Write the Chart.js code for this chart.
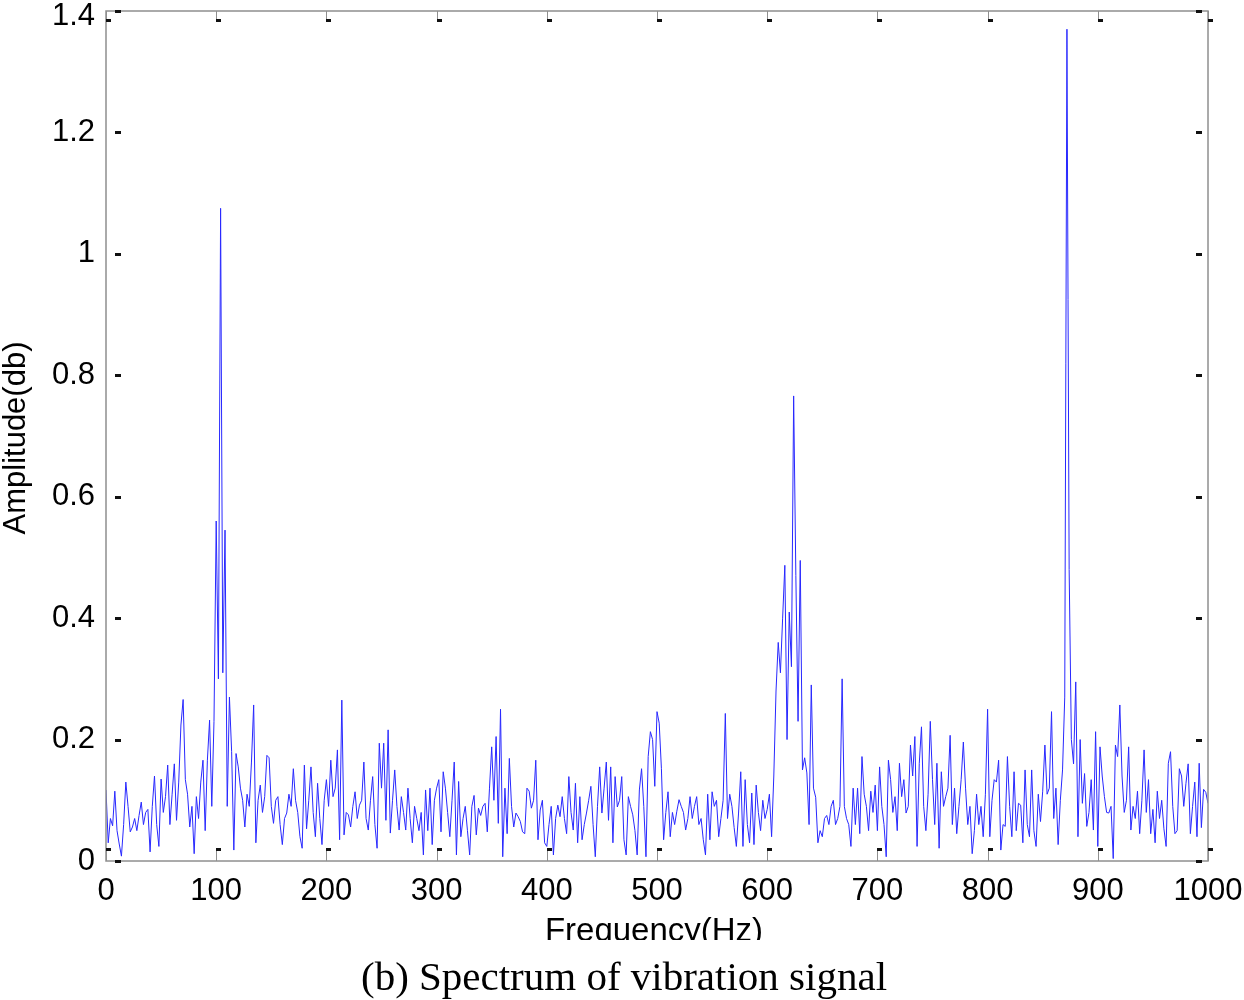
<!DOCTYPE html>
<html>
<head>
<meta charset="utf-8">
<script src="https://cdn.jsdelivr.net/npm/chart.js@4/dist/chart.umd.min.js"></script>
<style>
  html, body { margin: 0; padding: 0; background: #ffffff; }
  #wrap { position: relative; width: 1244px; height: 1000px; }
  canvas { display: block; }
</style>
</head>
<body>
<div id="wrap"><canvas id="c" width="1244" height="1000"></canvas></div>
<script>
// ---- data ----
const freqStartHz = 0;
const freqStepHz = 2;
const amplitudeDb = [
  0.117,0.03,0.07,0.058,0.115,0.05,0.028,0.008,0.06,0.13,
  0.09,0.048,0.056,0.07,0.05,0.075,0.097,0.06,0.08,0.085,
  0.015,0.09,0.14,0.06,0.024,0.135,0.08,0.106,0.158,0.06,
  0.11,0.16,0.067,0.13,0.224,0.266,0.134,0.11,0.056,0.09,
  0.012,0.106,0.07,0.13,0.166,0.05,0.166,0.232,0.09,0.23,
  0.56,0.30,1.075,0.31,0.545,0.09,0.27,0.18,0.018,0.177,
  0.155,0.12,0.10,0.056,0.11,0.09,0.163,0.257,0.03,0.10,
  0.125,0.08,0.106,0.174,0.17,0.09,0.062,0.10,0.106,0.06,
  0.027,0.07,0.079,0.11,0.09,0.152,0.10,0.08,0.04,0.021,
  0.158,0.053,0.10,0.155,0.08,0.04,0.128,0.07,0.027,0.10,
  0.134,0.09,0.166,0.106,0.12,0.183,0.035,0.265,0.043,0.08,
  0.076,0.056,0.09,0.114,0.07,0.092,0.10,0.163,0.07,0.051,
  0.10,0.139,0.06,0.021,0.194,0.12,0.194,0.067,0.216,0.046,
  0.10,0.15,0.09,0.051,0.106,0.08,0.051,0.12,0.07,0.03,
  0.09,0.07,0.05,0.08,0.01,0.117,0.05,0.12,0.027,0.10,
  0.12,0.134,0.048,0.147,0.12,0.08,0.04,0.10,0.163,0.01,
  0.131,0.04,0.07,0.09,0.05,0.01,0.09,0.108,0.043,0.087,
  0.075,0.09,0.095,0.048,0.12,0.188,0.10,0.205,0.062,0.25,
  0.007,0.12,0.045,0.169,0.09,0.056,0.079,0.073,0.065,0.048,
  0.045,0.12,0.115,0.087,0.10,0.166,0.035,0.084,0.10,0.03,
  0.024,0.06,0.09,0.01,0.07,0.092,0.073,0.106,0.07,0.045,
  0.139,0.08,0.051,0.128,0.03,0.106,0.035,0.06,0.079,0.10,
  0.123,0.06,0.007,0.09,0.155,0.079,0.12,0.163,0.067,0.155,
  0.03,0.139,0.089,0.10,0.139,0.035,0.01,0.106,0.09,0.076,
  0.05,0.01,0.117,0.152,0.09,0.007,0.172,0.213,0.2,0.123,
  0.246,0.227,0.152,0.035,0.08,0.114,0.04,0.08,0.06,0.082,
  0.101,0.09,0.08,0.051,0.07,0.106,0.07,0.09,0.106,0.06,
  0.07,0.035,0.01,0.11,0.035,0.114,0.09,0.10,0.04,0.07,
  0.10,0.243,0.07,0.11,0.09,0.055,0.024,0.079,0.147,0.024,
  0.134,0.06,0.03,0.112,0.027,0.125,0.08,0.05,0.10,0.07,
  0.085,0.11,0.04,0.14,0.28,0.36,0.31,0.40,0.487,0.20,
  0.41,0.32,0.766,0.47,0.23,0.495,0.15,0.17,0.145,0.06,
  0.29,0.12,0.105,0.03,0.05,0.04,0.07,0.075,0.06,0.09,
  0.10,0.06,0.07,0.09,0.30,0.09,0.07,0.06,0.024,0.12,
  0.06,0.12,0.045,0.172,0.11,0.09,0.05,0.115,0.08,0.125,
  0.05,0.155,0.09,0.06,0.007,0.166,0.134,0.08,0.106,0.05,
  0.161,0.106,0.134,0.079,0.09,0.191,0.14,0.205,0.024,0.161,
  0.221,0.09,0.05,0.11,0.23,0.134,0.06,0.161,0.021,0.147,
  0.09,0.106,0.12,0.207,0.06,0.12,0.045,0.09,0.134,0.196,
  0.12,0.06,0.09,0.012,0.05,0.11,0.06,0.09,0.04,0.11,
  0.25,0.04,0.10,0.134,0.13,0.166,0.018,0.06,0.057,0.172,
  0.09,0.04,0.147,0.05,0.095,0.092,0.03,0.15,0.06,0.04,
  0.15,0.05,0.024,0.11,0.065,0.115,0.191,0.11,0.12,0.246,
  0.07,0.12,0.027,0.10,0.15,0.27,1.37,0.48,0.20,0.16,
  0.295,0.04,0.2,0.095,0.144,0.057,0.08,0.134,0.051,0.213,
  0.024,0.188,0.14,0.106,0.08,0.079,0.09,0.004,0.191,0.172,
  0.257,0.14,0.08,0.10,0.188,0.051,0.09,0.07,0.115,0.045,
  0.10,0.183,0.08,0.134,0.045,0.085,0.03,0.115,0.07,0.10,
  0.053,0.024,0.161,0.18,0.09,0.045,0.05,0.152,0.14,0.09,
  0.128,0.16,0.045,0.09,0.13,0.04,0.161,0.055,0.118,0.113,
  0.095
];
const xTickValues = [0,100,200,300,400,500,600,700,800,900,1000];
const yTickValues = [0,0.2,0.4,0.6,0.8,1,1.2,1.4];
const xAxisTitle = 'Frequency(Hz)';
const yAxisTitle = 'Amplitude(db)';
const captionText = '(b) Spectrum of vibration signal';

// ---- build points from the arrays ----
const points = amplitudeDb.map((v, i) => ({ x: freqStartHz + i * freqStepHz, y: v }));

const FRAME = '#8f8f8f';
const TICK_FONT = '"Liberation Sans", Arial, sans-serif';
const yTop = yTickValues[yTickValues.length - 1];

const decorPlugin = {
  id: 'decor',
  afterDraw(chart) {
    const { ctx, chartArea: a, scales } = chart;
    ctx.save();
    // frame
    ctx.strokeStyle = FRAME;
    ctx.lineWidth = 1.5;
    ctx.strokeRect(a.left, a.top, a.right - a.left, a.bottom - a.top);
    // tick marks (inside, MATLAB style)
    ctx.fillStyle = '#111';
    xTickValues.forEach(v => {
      const x = Math.round(scales.x.getPixelForValue(v));
      ctx.strokeStyle = FRAME; ctx.lineWidth = 1;
      ctx.beginPath(); ctx.moveTo(x + 0.5, a.bottom); ctx.lineTo(x + 0.5, a.bottom - 12); ctx.stroke();
      ctx.beginPath(); ctx.moveTo(x + 0.5, a.top); ctx.lineTo(x + 0.5, a.top + 10); ctx.stroke();
      ctx.fillRect(x, a.bottom - 13, 5, 3);
      ctx.fillRect(x, a.top + 8, 5, 3);
    });
    yTickValues.forEach(v => {
      const y = Math.round(scales.y.getPixelForValue(v));
      ctx.fillRect(a.left + 9, y - 1, 6, 3);
      ctx.fillRect(a.right - 12, y - 1, 6, 3);
    });
    // y axis title
    ctx.fillStyle = '#000';
    ctx.font = '31px ' + TICK_FONT;
    ctx.textAlign = 'center';
    ctx.textBaseline = 'middle';
    ctx.save();
    ctx.translate(16, 438);
    ctx.rotate(-Math.PI / 2);
    ctx.fillText(yAxisTitle, 0, 0);
    ctx.restore();
    // x axis title (bottom clipped, as in the reference)
    ctx.save();
    ctx.beginPath();
    ctx.rect(0, 890, chart.width, 50);
    ctx.clip();
    ctx.font = '33px ' + TICK_FONT;
    ctx.textAlign = 'center';
    ctx.textBaseline = 'alphabetic';
    ctx.fillText(xAxisTitle, 654, 941);
    ctx.restore();
    // caption
    ctx.font = '41px "Liberation Serif", "Times New Roman", serif';
    ctx.textAlign = 'center';
    ctx.textBaseline = 'alphabetic';
    ctx.fillText(captionText, 624, 990);
    ctx.restore();
  }
};

new Chart(document.getElementById('c'), {
  type: 'line',
  data: {
    datasets: [{
      data: points,
      borderColor: 'rgb(40,40,255)',
      borderWidth: 1,
      pointRadius: 0,
      tension: 0,
      fill: false
    }]
  },
  options: {
    responsive: false,
    animation: false,
    layout: { padding: { left: 0, right: 36, top: 11, bottom: 0 } },
    plugins: { legend: { display: false }, tooltip: { enabled: false }, title: { display: false } },
    scales: {
      x: {
        type: 'linear',
        min: 0, max: 1000,
        afterBuildTicks: s => { s.ticks = xTickValues.map(v => ({ value: v })); },
        afterFit: s => { s.height = 139; s.paddingLeft = 0; s.paddingRight = 0; },
        grid: { display: false, drawTicks: false },
        border: { display: false },
        ticks: {
          color: '#000',
          padding: 12,
          maxRotation: 0,
          autoSkip: false,
          font: { family: TICK_FONT, size: 31 },
          callback: v => String(v)
        }
      },
      y: {
        type: 'linear',
        min: 0, max: 1.4,
        afterBuildTicks: s => { s.ticks = yTickValues.map(v => ({ value: v })); },
        afterFit: s => { s.width = 106; s.paddingTop = 0; s.paddingBottom = 0; },
        grid: { display: false, drawTicks: false },
        border: { display: false },
        ticks: {
          color: '#000',
          padding: 11,
          autoSkip: false,
          font: c => (c.tick && c.tick.value === yTop)
            ? { family: TICK_FONT, size: 31, lineHeight: 0.32 }
            : { family: TICK_FONT, size: 31 },
          callback: v => {
            const s = String(Math.round(v * 10) / 10);
            return v === yTop ? ['', s] : s;
          }
        }
      }
    }
  },
  plugins: [decorPlugin]
});
</script>
</body>
</html>
